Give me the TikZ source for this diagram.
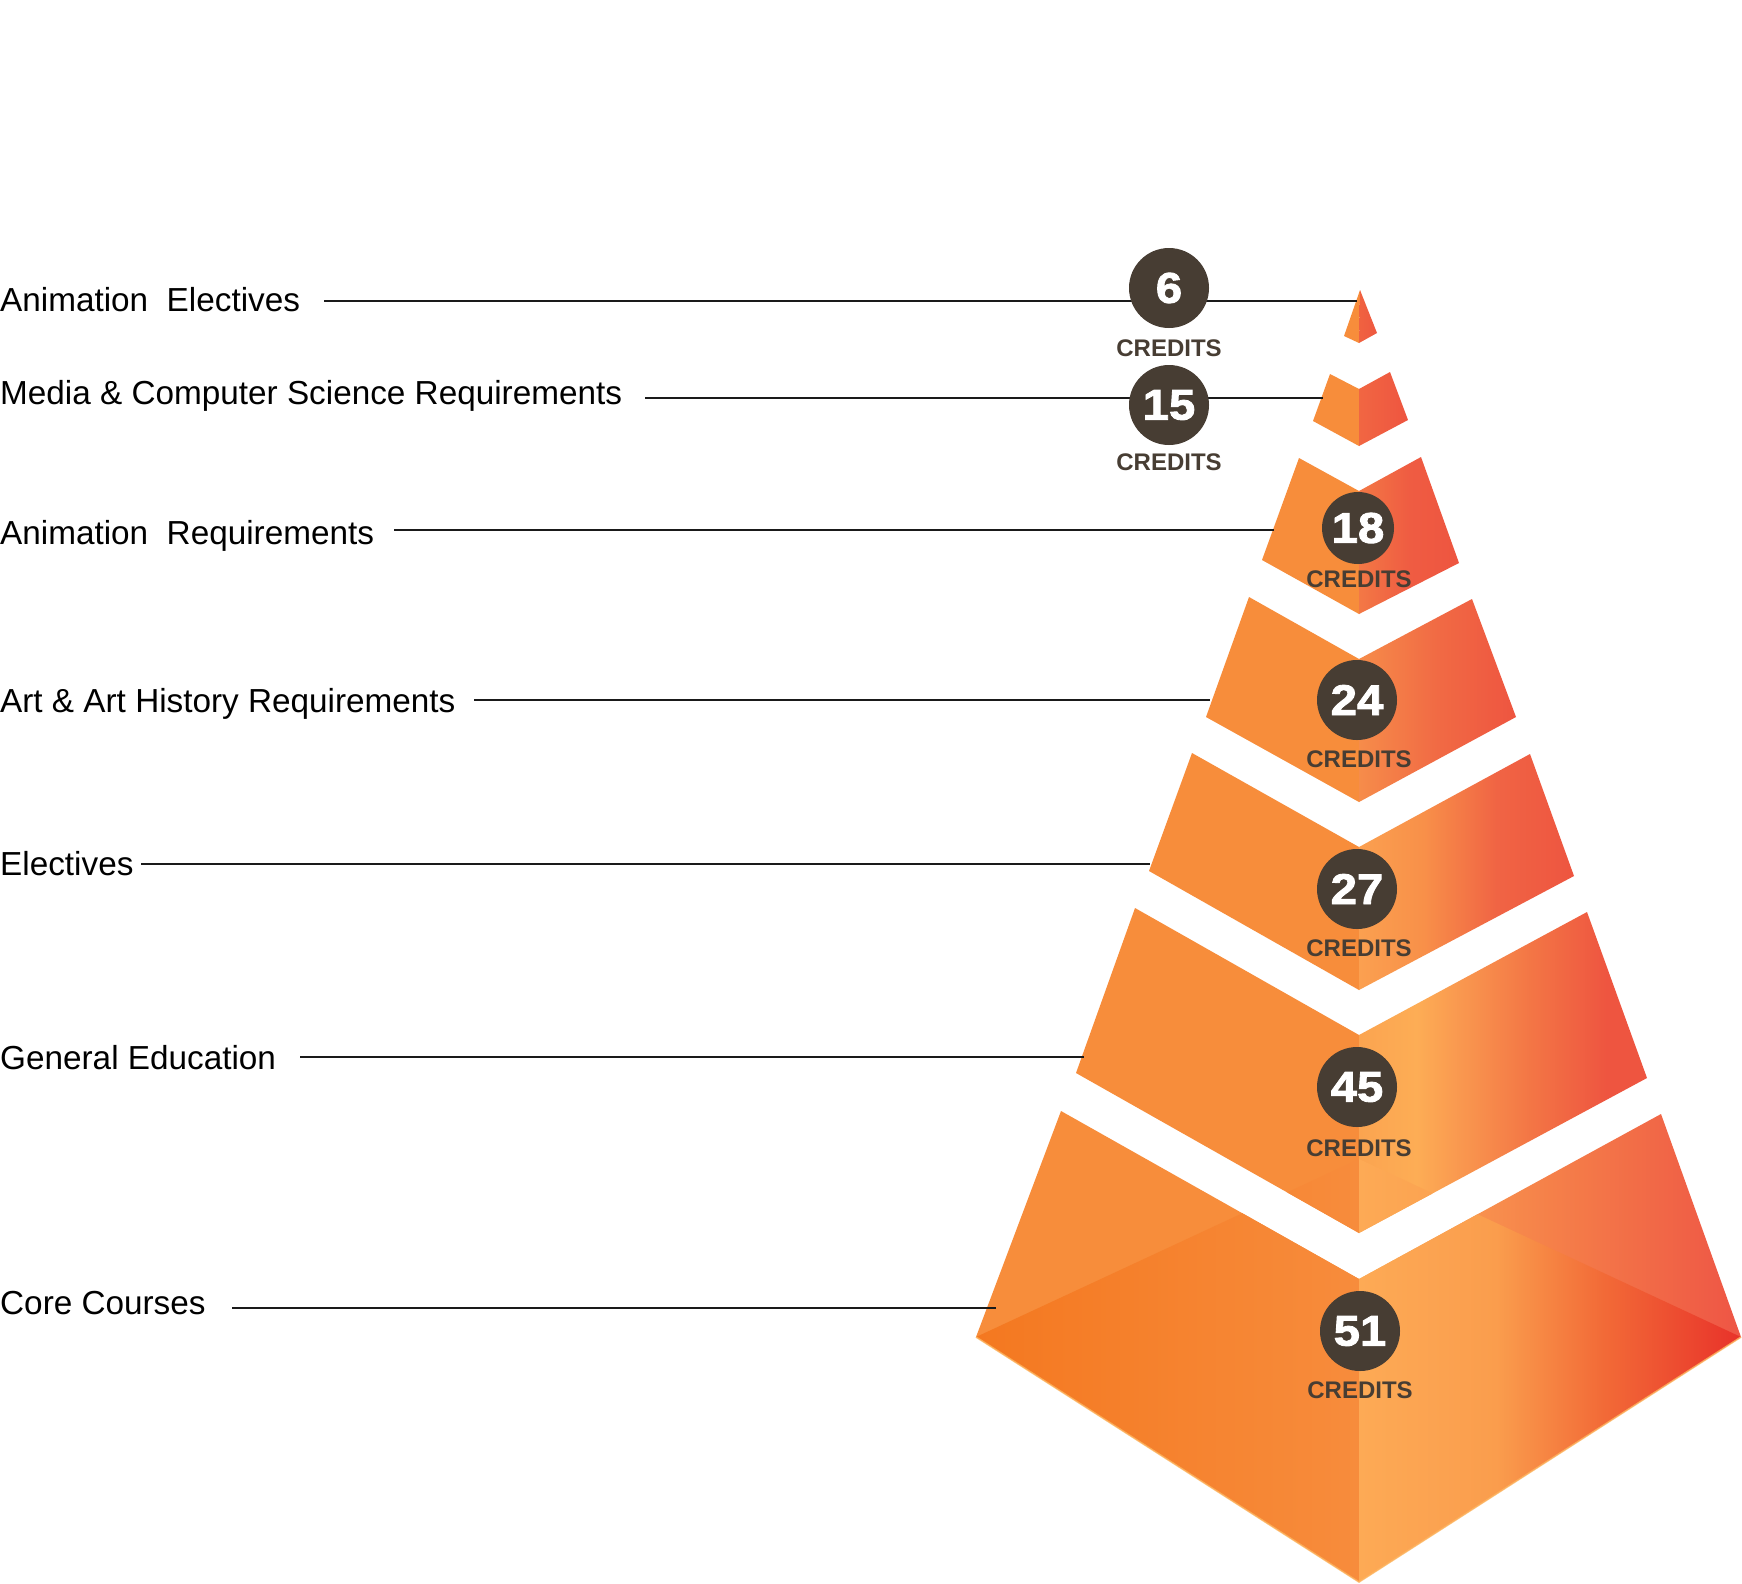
\documentclass[tikz,border=0pt]{standalone}
\usepackage{fontspec}
\setmainfont{Liberation Sans}
\newfontfamily\numfont{Liberation Sans}[FakeStretch=1.1,FakeBold=2]
\definecolor{leftface}{HTML}{F78D3B}
\definecolor{redface}{HTML}{EE5540}
\definecolor{badgecol}{HTML}{473D33}
\definecolor{linecol}{HTML}{1A1A1A}
\definecolor{glow}{HTML}{FDB560}
\definecolor{flA}{HTML}{F47820}
\definecolor{flB}{HTML}{F78C3C}
\definecolor{frA}{HTML}{FDAA55}
\definecolor{frB}{HTML}{FA9D4D}
\definecolor{frC}{HTML}{F26A37}
\definecolor{frD}{HTML}{E8322A}
\definecolor{s6a}{HTML}{FBA450}
\definecolor{s6b}{HTML}{FDAD55}
\definecolor{s6c}{HTML}{F37545}
\definecolor{s6d}{HTML}{EE5540}
\definecolor{s5a}{HTML}{FBA050}
\definecolor{s5b}{HTML}{F89049}
\definecolor{s5c}{HTML}{F06444}
\definecolor{s5d}{HTML}{EE5540}
\definecolor{t1a}{HTML}{F06240}
\definecolor{t1b}{HTML}{EE5840}
\definecolor{t2a}{HTML}{F16642}
\definecolor{t3a}{HTML}{F37845}
\definecolor{t3m}{HTML}{EF5C42}
\definecolor{t4a}{HTML}{F68C4A}
\definecolor{t4m}{HTML}{F16A44}
\definecolor{t7a}{HTML}{FDAE57}
\definecolor{t7m}{HTML}{F58049}
\definecolor{t7b}{HTML}{EE5545}
\pgfdeclarehorizontalshading{frontR}{100bp}{color(0bp)=(frA); color(25bp)=(frA); color(43bp)=(frB); color(57bp)=(frC); color(75bp)=(frD); color(100bp)=(frD)}
\pgfdeclarehorizontalshading{tsixR}{100bp}{color(0bp)=(s6a); color(25bp)=(s6a); color(35bp)=(s6b); color(55bp)=(s6c); color(68bp)=(s6d); color(100bp)=(s6d)}
\pgfdeclarehorizontalshading{tfiveR}{100bp}{color(0bp)=(s5a); color(25bp)=(s5a); color(40bp)=(s5b); color(57bp)=(s5c); color(75bp)=(s5d); color(100bp)=(s5d)}
\tikzset{
  lbl/.style={anchor=base west, inner sep=0pt, text=black, font=\fontsize{33.3}{40}\selectfont},
  leader/.style={draw=linecol, line width=2.2pt},
  badge/.style={circle, fill=badgecol, minimum size=80pt, inner sep=0pt, text=white, font=\numfont\bfseries\fontsize{43}{50}\selectfont},
  smallbadge/.style={badge, minimum size=72pt},
  cred/.style={inner sep=0pt, text=badgecol, font=\bfseries\fontsize{24}{28}\selectfont},
  lface/.style={fill=leftface},
  edgeglow/.style={draw=glow, line width=1.6pt, opacity=0.8}
}
\begin{document}
\begin{tikzpicture}[x=1pt, y=-1pt]
\useasboundingbox (0,0) rectangle (1742,1583);
\fill[white] (0,0) rectangle (1742,1583);

% ---- pyramid: left faces
\fill[lface] (1360,290) -- (1359,343) -- (1344,336) -- cycle;
\fill[lface] (1330,374) -- (1359,389) -- (1359,446) -- (1313,421) -- cycle;
\fill[lface] (1299,458) -- (1359,491) -- (1359,614) -- (1262,560) -- cycle;
\fill[lface] (1249,597) -- (1359,659) -- (1359,802) -- (1206,717) -- cycle;
\fill[lface] (1192,753) -- (1359,847) -- (1359,990) -- (1149,871) -- cycle;
\fill[lface] (1135,908) -- (1359,1035) -- (1359,1233) -- (1076,1073) -- cycle;
\fill[lface] (1061,1111) -- (1359,1279) -- (1359,1582) -- (976,1337) -- cycle;

% ---- pyramid: right faces
\shade[left color=t1a, right color=t1b]
  (1360,290) -- (1377,333) -- (1359,343) -- cycle;
\shade[left color=t2a, right color=redface]
  (1359,389) -- (1390,372) -- (1408,420) -- (1359,446) -- cycle;
\shade[left color=t3a, right color=redface, middle color=t3m]
  (1359,491) -- (1421,457) -- (1459,563) -- (1359,614) -- cycle;
\shade[left color=t4a, right color=redface, middle color=t4m]
  (1359,659) -- (1472,599) -- (1516,717) -- (1359,802) -- cycle;
\shade[shading=tfiveR]
  (1359,847) -- (1530,754) -- (1574,876) -- (1359,990) -- cycle;
\shade[shading=tsixR]
  (1359,1035) -- (1587,912) -- (1647,1078) -- (1359,1233) -- cycle;
\shade[left color=t7a, right color=t7b, middle color=t7m]
  (1359,1279) -- (1661,1114) -- (1741,1337) -- (1359,1582) -- cycle;

% ---- front of the base (below the back diagonals)
\begin{scope}
  \clip (1135,908) -- (1359,1035) -- (1359,1233) -- (1076,1073) -- cycle
        (1061,1111) -- (1359,1279) -- (1359,1582) -- (976,1337) -- cycle;
  \clip (976,1337) -- (1359,1159) -- (1359,1582) -- cycle;
  \shade[left color=flA, right color=flB] (976,1159) rectangle (1359,1582);
\end{scope}
\begin{scope}
  \clip (1359,1035) -- (1587,912) -- (1647,1078) -- (1359,1233) -- cycle
        (1359,1279) -- (1661,1114) -- (1741,1337) -- (1359,1582) -- cycle;
  \clip (1741,1337) -- (1359,1159) -- (1359,1582) -- cycle;
  \shade[shading=frontR] (1359,1159) rectangle (1741,1582);
\end{scope}
\draw[edgeglow] (976,1337) -- (1359,1582) -- (1741,1337);

% ---- leader lines
\coordinate (s1) at (324,301);  \coordinate (e1) at (1357,301);
\coordinate (s2) at (645,398);  \coordinate (e2) at (1323,398);
\coordinate (s3) at (394,530);  \coordinate (e3) at (1274,530);
\coordinate (s4) at (474,700);  \coordinate (e4) at (1210,700);
\coordinate (s5) at (141,864);  \coordinate (e5) at (1150,864);
\coordinate (s6) at (300,1057); \coordinate (e6) at (1084,1057);
\coordinate (s7) at (232,1308); \coordinate (e7) at (996,1308);
\foreach \i in {1,...,7} { \draw[leader] (s\i) -- (e\i); }

% ---- credit badges
\node[badge] (b6) at (1169,288) {6};
\node[cred] (c6) at (1169,348) {CREDITS};
\node[badge] (b15) at (1169,405) {15};
\node[cred] (c15) at (1169,462.5) {CREDITS};
\node[smallbadge] (b18) at (1358,528) {18};
\node[cred] (c18) at (1359,579.5) {CREDITS};
\node[badge] (b24) at (1357,700) {24};
\node[cred] (c24) at (1359,759) {CREDITS};
\node[badge] (b27) at (1357,889) {27};
\node[cred] (c27) at (1359,948) {CREDITS};
\node[badge] (b45) at (1357,1087) {45};
\node[cred] (c45) at (1359,1148) {CREDITS};
\node[badge] (b51) at (1360,1331) {51};
\node[cred] (c51) at (1360,1390.5) {CREDITS};

% ---- labels
\node[lbl] (n1) at (0,311) {Animation~~Electives};
\node[lbl] (n2) at (0,404) {Media \& Computer Science Requirements};
\node[lbl] (n3) at (0,544) {Animation~~Requirements};
\node[lbl] (n4) at (0,712.5) {Art \& Art History Requirements};
\node[lbl] (n5) at (0,875.5) {Electives};
\node[lbl] (n6) at (0,1069) {General Education};
\node[lbl] (n7) at (0,1314) {Core Courses};
\end{tikzpicture}
\end{document}
